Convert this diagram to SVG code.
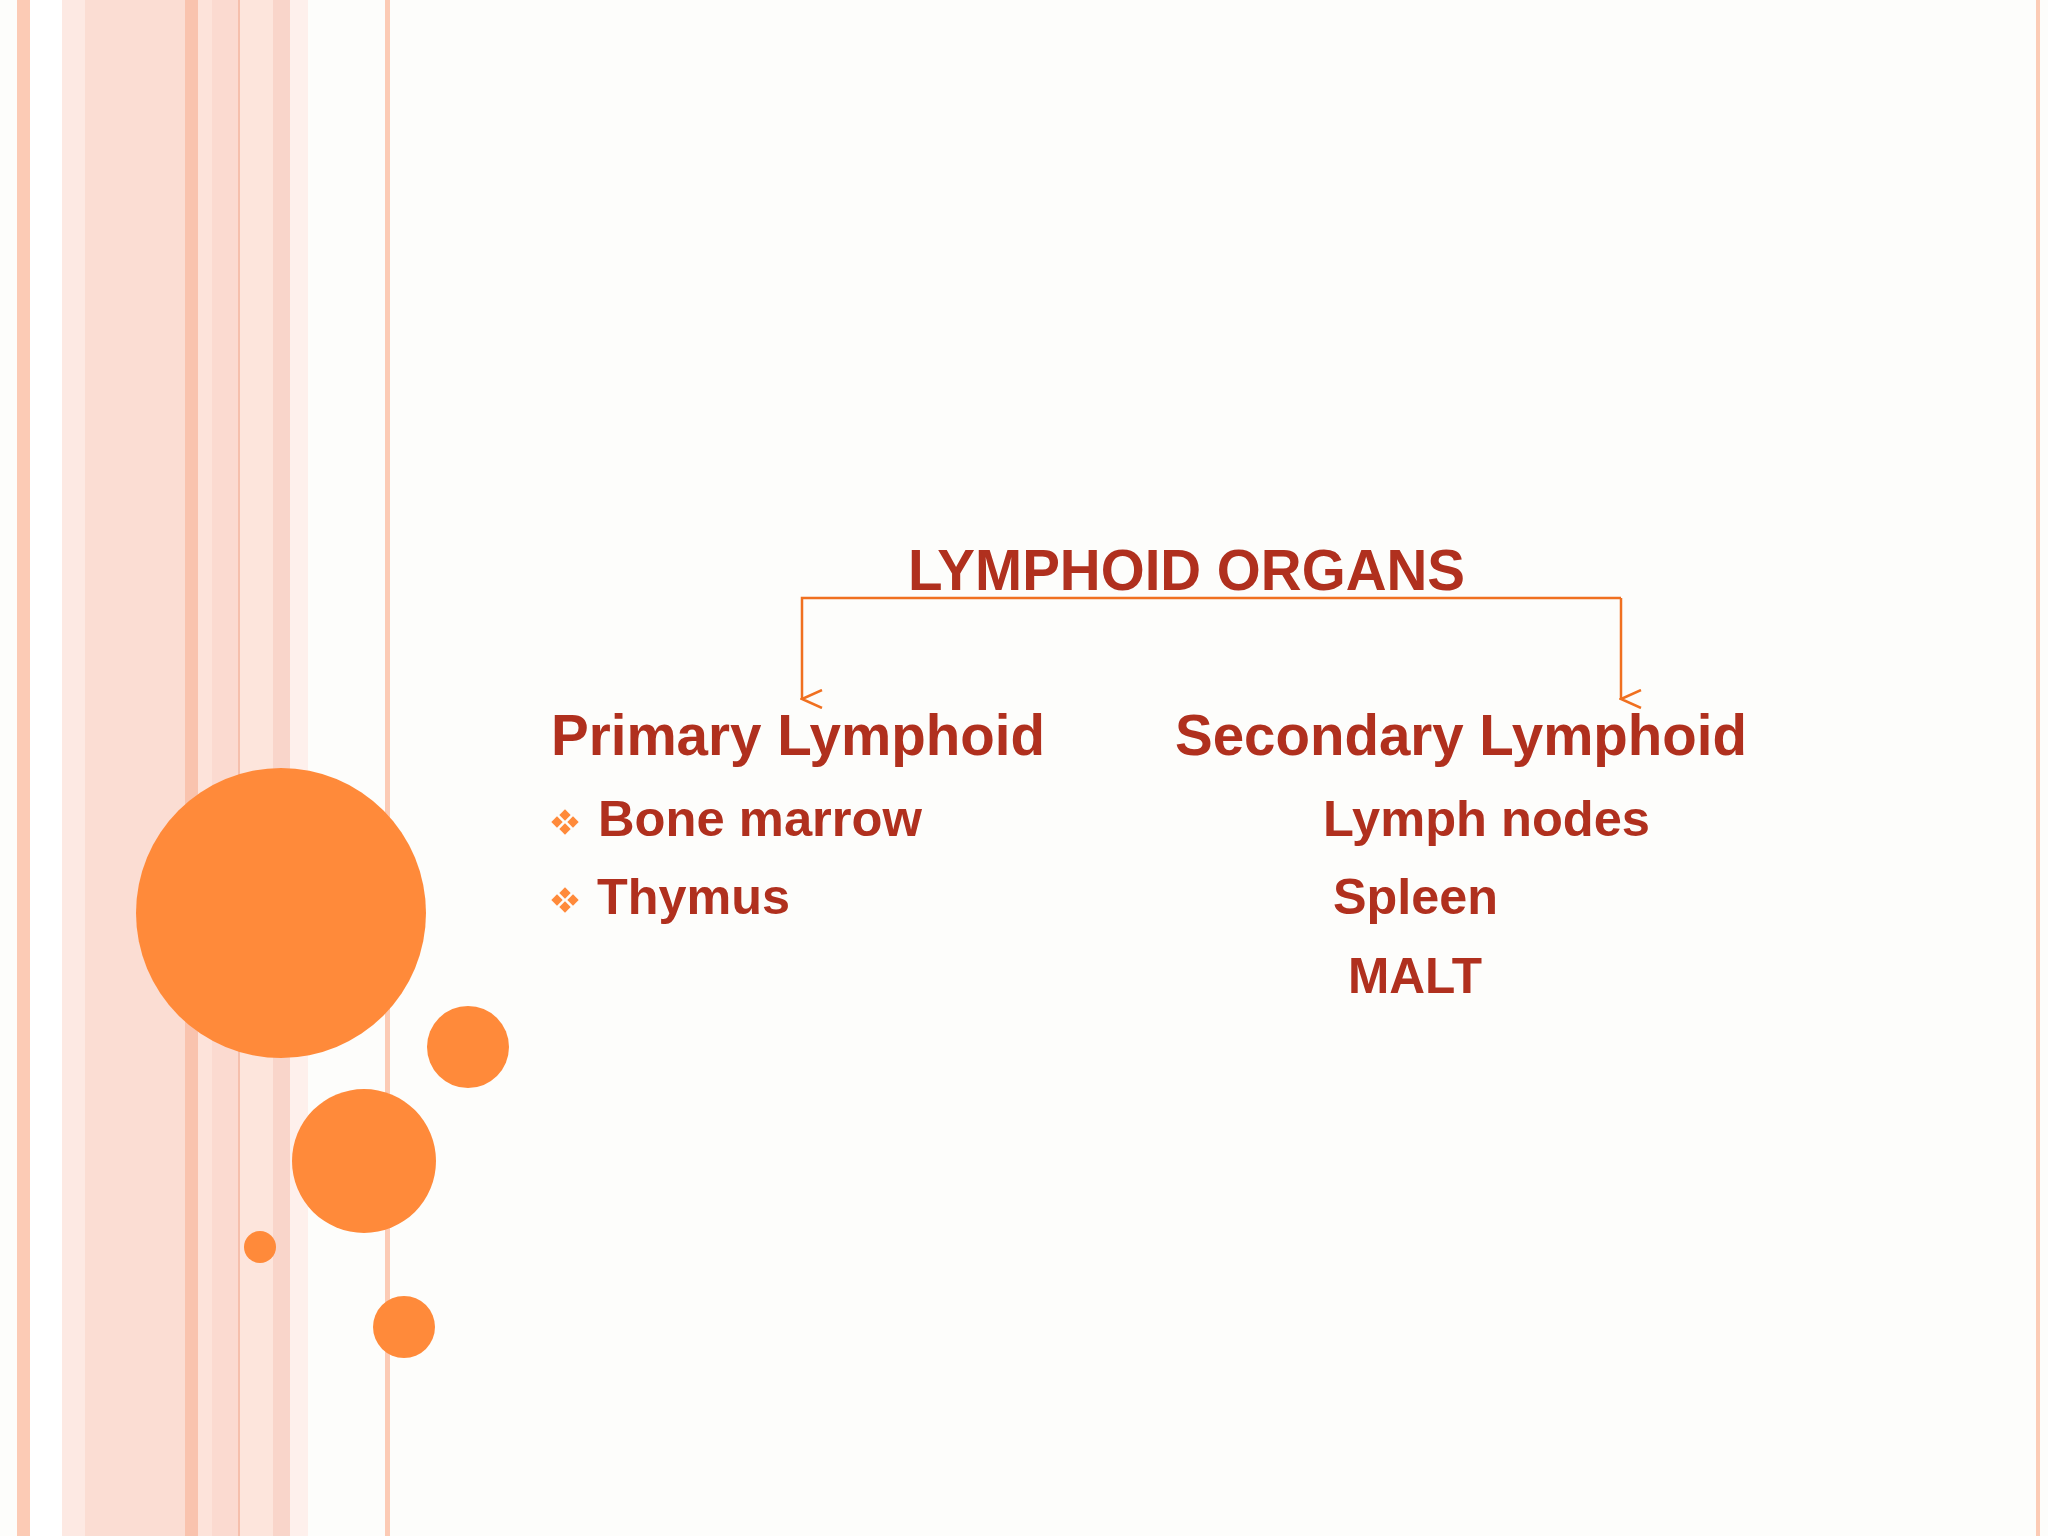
<svg xmlns="http://www.w3.org/2000/svg" width="2048" height="1536" viewBox="0 0 2048 1536">
<defs>
<style>
.t{font-family:"Liberation Sans",Arial,sans-serif;font-weight:bold;fill:#B0301E}
.c{fill:#FF8A3A}
.b{fill:#FF8A3A}
</style>
<marker id="ah" markerWidth="20" markerHeight="24" refX="10" refY="22" orient="auto-start-reverse" markerUnits="userSpaceOnUse" viewBox="0 0 20 24">
<path d="M1,2 L10,22 L19,2" fill="none" stroke="#F07020" stroke-width="2.5"/>
</marker>
<g id="bul">
<rect x="-4" y="-4" width="8" height="8" transform="rotate(45)" class="b"/>
</g>
</defs>
<rect width="2048" height="1536" fill="#FDFDFB"/>
<g id="stripes">
<rect x="17" y="0" width="13" height="1536" fill="#FCCBB5"/>
<rect x="30" y="0" width="32" height="1536" fill="#FFFFFF"/>
<rect x="62" y="0" width="23" height="1536" fill="#FDE9E3"/>
<rect x="85" y="0" width="100" height="1536" fill="#FBDDD3"/>
<rect x="185" y="0" width="13" height="1536" fill="#F9C3AE"/>
<rect x="198" y="0" width="14" height="1536" fill="#FDE3DA"/>
<rect x="212" y="0" width="26" height="1536" fill="#FBDAD0"/>
<rect x="238" y="0" width="2" height="1536" fill="#F5BFAC"/>
<rect x="240" y="0" width="33" height="1536" fill="#FDE5DC"/>
<rect x="273" y="0" width="17" height="1536" fill="#F9D5CA"/>
<rect x="290" y="0" width="18" height="1536" fill="#FEF0EC"/>
<rect x="385" y="0" width="5" height="1536" fill="#FCCBB5"/>
<rect x="2036" y="0" width="4" height="1536" fill="#FCCBB5"/>
</g>
<g id="circles">
<circle class="c" cx="281" cy="913" r="145"/>
<circle class="c" cx="468" cy="1047" r="41"/>
<circle class="c" cx="364" cy="1161" r="72"/>
<circle class="c" cx="260" cy="1247" r="16"/>
<circle class="c" cx="404" cy="1327" r="31"/>
</g>
<g id="connectors" fill="none" stroke="#F07020" stroke-width="2.5">
<path d="M1621,598 L802,598 L802,699" marker-end="url(#ah)"/>
<path d="M1621,598 L1621,699" marker-end="url(#ah)"/>
</g>
<g id="title"><text class="t" x="908" y="590" font-size="58" textLength="557" lengthAdjust="spacingAndGlyphs">LYMPHOID ORGANS</text></g>
<g id="primary">
<text class="t" x="551" y="755" font-size="58" textLength="494" lengthAdjust="spacingAndGlyphs">Primary Lymphoid</text>
<use href="#bul" x="565" y="815"/><use href="#bul" x="557" y="822"/><use href="#bul" x="573" y="822"/><use href="#bul" x="565" y="829"/>
<text class="t" x="598" y="836" font-size="50" textLength="324" lengthAdjust="spacingAndGlyphs">Bone marrow</text>
<use href="#bul" x="565" y="893"/><use href="#bul" x="557" y="900"/><use href="#bul" x="573" y="900"/><use href="#bul" x="565" y="907"/>
<text class="t" x="597" y="914" font-size="50" textLength="193" lengthAdjust="spacingAndGlyphs">Thymus</text>
</g>
<g id="secondary">
<text class="t" x="1175" y="755" font-size="58" textLength="572" lengthAdjust="spacingAndGlyphs">Secondary Lymphoid</text>
<text class="t" x="1323" y="836" font-size="50" textLength="327" lengthAdjust="spacingAndGlyphs">Lymph nodes</text>
<text class="t" x="1333" y="914" font-size="50" textLength="165" lengthAdjust="spacingAndGlyphs">Spleen</text>
<text class="t" x="1348" y="993" font-size="50" textLength="134" lengthAdjust="spacingAndGlyphs">MALT</text>
</g>
</svg>
